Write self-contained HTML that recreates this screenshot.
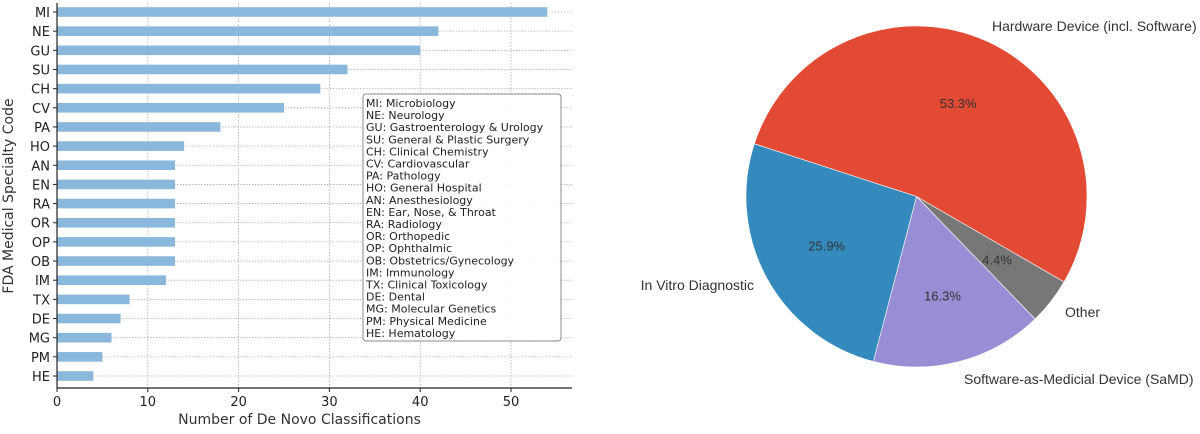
<!DOCTYPE html>
<html><head><meta charset="utf-8"><style>
body{margin:0;background:#fff;width:1200px;height:430px;overflow:hidden;font-family:"DejaVu Sans","Liberation Sans",sans-serif}
</style></head><body>
<svg width="1200" height="430" xmlns="http://www.w3.org/2000/svg">
<g id="bar"></g>
<g id="pie"></g>
</svg>
<script>
const codes=["MI","NE","GU","SU","CH","CV","PA","HO","AN","EN","RA","OR","OP","OB","IM","TX","DE","MG","PM","HE"];
const counts=[54,42,40,32,29,25,18,14,13,13,13,13,13,13,12,8,7,6,5,4];
const xTicks=[0,10,20,30,40,50];
const legendLines=["MI: Microbiology","NE: Neurology","GU: Gastroenterology & Urology","SU: General & Plastic Surgery","CH: Clinical Chemistry","CV: Cardiovascular","PA: Pathology","HO: General Hospital","AN: Anesthesiology","EN: Ear, Nose, & Throat","RA: Radiology","OR: Orthopedic","OP: Ophthalmic","OB: Obstetrics/Gynecology","IM: Immunology","TX: Clinical Toxicology","DE: Dental","MG: Molecular Genetics","PM: Physical Medicine","HE: Hematology"];
const pieLabels=["Hardware Device (incl. Software)","Other","Software-as-Medicial Device (SaMD)","In Vitro Diagnostic"];
const pieShares=[53.3,4.4,16.3,25.9];
const pieColors=["#e24a33","#777777","#988ed5","#348abd"];

const NS="http://www.w3.org/2000/svg";
function mk(p,t,a,txt){const e=document.createElementNS(NS,t);for(const k in a)e.setAttribute(k,a[k]);if(txt!=null)e.textContent=txt;p.appendChild(e);return e;}
const L=57,R=572,T=3,B=388;
const xs=v=>L+v*9.08;
const ys=i=>12+i*(376-12)/(codes.length-1);
const bar=document.getElementById('bar');
xTicks.forEach(t=>{const g=mk(bar,'line',{x1:xs(t),x2:xs(t),y1:T,y2:B,stroke:'#b0b0b0','stroke-width':0.8,'stroke-dasharray':'1.5,1.5'});
});
codes.forEach((c,i)=>{const g=mk(bar,'line',{x1:L,x2:R,y1:ys(i),y2:ys(i),stroke:'#b0b0b0','stroke-width':0.8,'stroke-dasharray':'1.5,1.5'});
});
codes.forEach((c,i)=>{
 const r=mk(bar,'rect',{x:L,y:ys(i)-4.8,width:xs(counts[i])-L,height:9.6,fill:'#8ab8dd'});
 
 const t=mk(bar,'text',{x:L-7,y:ys(i)+5,'text-anchor':'end','font-size':13,fill:'#222'},c);
 
 mk(bar,'line',{x1:L-4,x2:L,y1:ys(i),y2:ys(i),stroke:'#222'});
});
xTicks.forEach(t=>{mk(bar,'line',{x1:xs(t),x2:xs(t),y1:B,y2:B+4,stroke:'#222'});
 const e=mk(bar,'text',{x:xs(t),y:B+18,'text-anchor':'middle','font-size':13,fill:'#222'},t);
 });
mk(bar,'line',{x1:L,x2:L,y1:T,y2:B,stroke:'#222','stroke-width':1.2});
mk(bar,'line',{x1:L,x2:R,y1:B,y2:B,stroke:'#222','stroke-width':1.2});
let e=mk(bar,'text',{x:(L+R)/2-15,y:B+36,'text-anchor':'middle','font-size':14,fill:'#333'},'Number of De Novo Classifications');

e=mk(bar,'text',{x:0,y:0,transform:'translate(13,196) rotate(-90)','text-anchor':'middle','font-size':14,fill:'#333'},'FDA Medical Specialty Code');

const lg=mk(bar,'g',{});
mk(lg,'rect',{x:363,y:94,width:198,height:247,rx:3,fill:'#fff','fill-opacity':0.9,stroke:'#888','stroke-width':1});
legendLines.forEach((s,i)=>{const t=mk(lg,'text',{x:366,y:107+i*12.1,'font-size':11,fill:'#222'},s);
 });

const pie=document.getElementById('pie');
const cx=916.5,cy=196.5,rad=170.5;let ang=162;
const total=pieShares.reduce((a,b)=>a+b,0);
const labelPos=[[992,31,'start'],[1065,317,'start'],[964,384,'start'],[754,290,'end']];
pieShares.forEach((v,i)=>{
 const sw=v/total*360, a0=ang, a1=ang-sw;
 const p=a=>[cx+rad*Math.cos(a*Math.PI/180),cy-rad*Math.sin(a*Math.PI/180)];
 const [x0,y0]=p(a0),[x1,y1]=p(a1);
 const s=mk(pie,'path',{d:`M${cx},${cy}L${x0},${y0}A${rad},${rad} 0 ${sw>180?1:0} 1 ${x1},${y1}Z`,fill:pieColors[i],stroke:'#fff','stroke-width':0.6});
 
 const m=(a0+a1)/2*Math.PI/180;
 const t=mk(pie,'text',{x:cx+0.6*rad*Math.cos(m),y:cy-0.6*rad*Math.sin(m)+5,'text-anchor':'middle','font-family':'Liberation Sans, sans-serif','font-size':13,fill:'#333'},v.toFixed(1)+'%');
 
 const lp=labelPos[i];
 const l=mk(pie,'text',{x:lp[0],y:lp[1],'text-anchor':lp[2],'font-family':'Liberation Sans, sans-serif','font-size':14,fill:'#333'},pieLabels[i]);
 
 ang=a1;
});
</script>
</body></html>
